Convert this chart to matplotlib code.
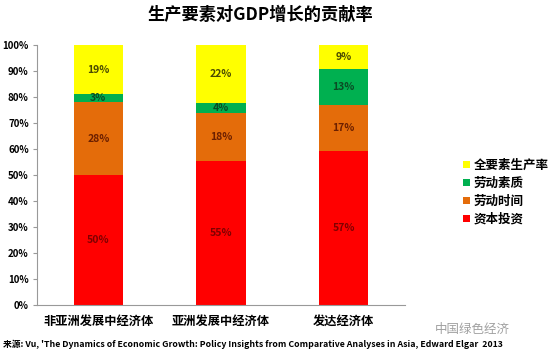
import numpy as np
import matplotlib.pyplot as plt

plt.rcParams['font.family'] = ['Noto Sans CJK SC', 'DejaVu Sans']

categories = ['非亚洲发展中经济体', '亚洲发展中经济体', '发达经济体']
series = ['资本投资', '劳动时间', '劳动素质', '全要素生产率']
capital = [50, 55, 57]
hours = [28, 18, 17]
quality = [3, 4, 13]
tfp = [19, 22, 9]
yticks = [0, 10, 20, 30, 40, 50, 60, 70, 80, 90, 100]

colors = ['#FF0000', '#E46C0A', '#00B050', '#FFFF00']
text_colors = ['#7F0000', '#6B1F00', '#0B4A24', '#4A4A00']

data = np.array([capital, hours, quality, tfp], dtype=float)
share = data / data.sum(axis=0) * 100

fig = plt.figure(figsize=(5.5, 3.52), dpi=100)
ax = fig.add_axes([37/550, 1 - 305/352, (405-37)/550, (305-45)/352])

x = np.arange(len(categories))
bottom = np.zeros(len(categories))
handles = []
for i in range(len(series)):
    b = ax.bar(x, share[i], 0.4, bottom=bottom, color=colors[i], label=series[i])
    handles.append(b)
    for j in range(len(categories)):
        ax.text(x[j], bottom[j] + share[i][j] / 2, f'{int(data[i][j])}%',
                ha='center', va='center', fontsize=7.5, fontweight='bold',
                color=text_colors[i])
    bottom += share[i]

ax.set_xlim(-0.5, 2.5)
ax.set_ylim(0, 100)
ax.set_yticks(yticks)
ax.set_yticklabels([f'{v}%' for v in yticks], fontsize=7, fontweight='bold')
ax.set_xticks(x)
ax.set_xticklabels(categories, fontsize=8.8, fontweight='bold')
ax.tick_params(axis='x', length=0, pad=7)
ax.tick_params(axis='y', length=3, color='#999999', pad=3)
for s in ['top', 'right']:
    ax.spines[s].set_visible(False)
for s in ['left', 'bottom']:
    ax.spines[s].set_color('#999999')
    ax.spines[s].set_linewidth(0.8)

leg = fig.legend(handles[::-1], series[::-1], loc='upper left',
                 bbox_to_anchor=(458/550, 1 - 154/352), frameon=False,
                 prop={'size': 9, 'weight': 'bold'}, handlelength=0.55,
                 handleheight=0.55, handletextpad=0.3, labelspacing=0.4,
                 borderaxespad=0)

fig.text(260/550, 1 - 15/352, '生产要素对GDP增长的贡献率', ha='center', va='center',
         fontsize=12.4, fontweight='bold')
fig.text(3/550, 1 - 344/352,
         "来源: Vu, 'The Dynamics of Economic Growth: Policy Insights from Comparative Analyses in Asia, Edward Elgar  2013",
         ha='left', va='center', fontsize=6.3, fontweight='bold')
fig.text(472/550, 1 - 329/352, '中国绿色经济', ha='center', va='center',
         fontsize=9, color='#A0A0A0')

fig.savefig('out.png', dpi=100)
